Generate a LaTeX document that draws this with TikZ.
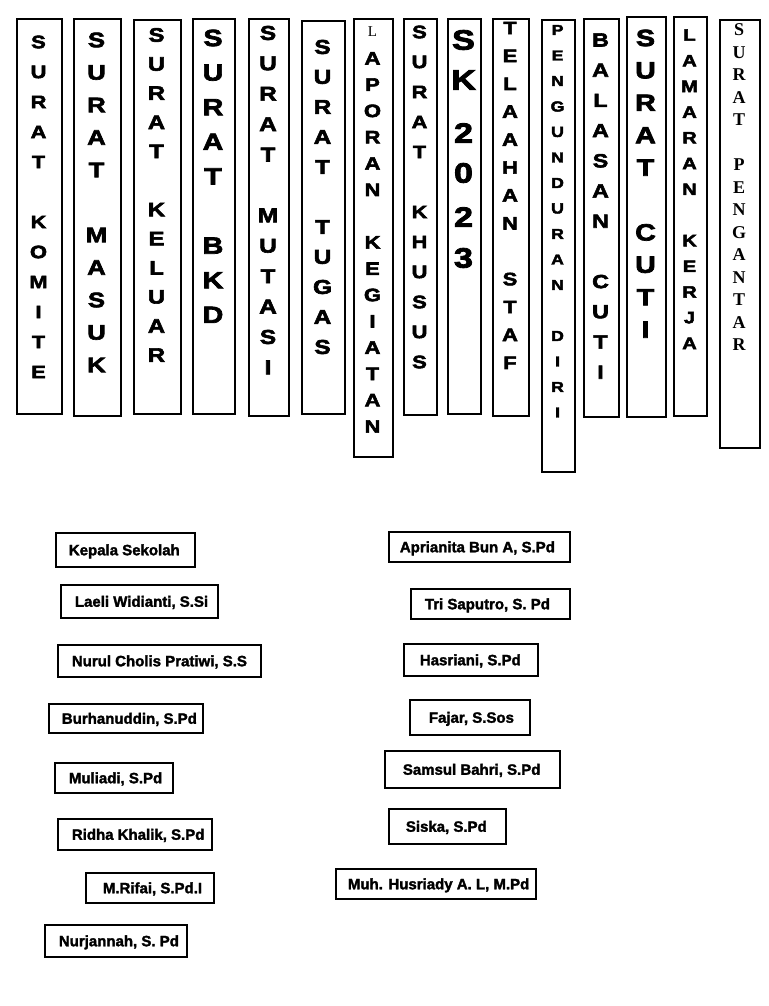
\documentclass[tikz,border=0pt]{standalone}
\usepackage{fontspec}
\setmainfont{Liberation Sans}
\newfontfamily\wide{Liberation Sans}[FakeStretch=1.22,FakeBold=3]
\newfontfamily\heavy{Liberation Sans}[FakeBold=2]
\newfontfamily\tnr{Liberation Serif}
\newcommand\F[1]{\wide\bfseries\fontsize{#1}{#1}\selectfont}
\newcommand\TB[1]{\tnr\bfseries\fontsize{#1}{#1}\selectfont}
\tikzset{
  vbox/.style={draw,line width=2pt,inner sep=0pt,anchor=north west},
  nbox/.style={draw,line width=1.8pt,inner sep=0pt,anchor=north west,
    font=\heavy\bfseries\fontsize{15}{15}\selectfont,text height=10.7pt,text depth=0pt},
  letter/.style={inner sep=0pt}
}
% vertical box: name, x0, y0, x1, y1 (outer edges in px)
\newcommand\vbx[5]{\node[vbox,minimum width=#4pt-#2pt-2pt,minimum height=#5pt-#3pt-2pt] (#1) at ({#2+1},{#3+1}) {};}
% letters: name, x, first y, step, font, list
\newcommand\vword[6]{\foreach \ch [count=\i from 0] in {#6}{\ifx\ch\empty\else\node[letter,font=#5] (#1-\i) at (#2,{#3+\i*#4}) {\ch};\fi}}
% name box: name, x0, y0, x1, y1, text start x, text
\newcommand\nbx[7]{\node[nbox,minimum width=#4pt-#2pt-2pt,minimum height=#5pt-#3pt-2pt] (#1) at ({#2+1},{#3+1})
  {\makebox[\dimexpr#4pt-#2pt-2pt\relax][l]{\hspace*{\dimexpr#6pt-#2pt-1pt\relax}#7}};}
\begin{document}
\begin{tikzpicture}[x=1pt,y=-1pt]
\fill[white] (0,0) rectangle (768,1006);
\useasboundingbox (0,0) rectangle (768,1006);
% ---- vertical boxes ----
\vbx{b1}{15}{17}{62}{414}
\vword{b1}{38.5}{42}{30}{\F{18}}{S,U,R,A,T,{},K,O,M,I,T,E}
\vbx{b2}{72}{17}{121}{416}
\vword{b2}{96.5}{40}{32.5}{\F{21}}{S,U,R,A,T,{},M,A,S,U,K}
\vbx{b3}{132}{18}{181}{414}
\vword{b3}{156.5}{35}{29.1}{\F{19.5}}{S,U,R,A,T,{},K,E,L,U,A,R}
\vbx{b4}{191}{17}{235}{414}
\vword{b4}{213}{38}{34.6}{\F{23.5}}{S,U,R,A,T,{},B,K,D}
\vbx{b5}{247}{17}{289}{416}
\vword{b5}{268}{33}{30.4}{\F{20}}{S,U,R,A,T,{},M,U,T,A,S,I}
\vbx{b6}{300}{19}{345}{414}
\vword{b6}{322.5}{47}{30}{\F{20}}{S,U,R,A,T,{},T,U,G,A,S}
\vbx{b7}{352}{17}{393}{457}
\vword{b7}{372.5}{32}{26.3}{\F{18}}{{\tnr\mdseries\fontsize{15}{15}\selectfont L},A,P,O,R,A,N,{},K,E,G,I,A,T,A,N}
\vbx{b8}{402}{17}{437}{415}
\vword{b8}{419.5}{32}{30}{\F{18}}{S,U,R,A,T,{},K,H,U,S,U,S}
\vbx{b9}{446}{17}{481}{414}
\foreach \ch/\yy [count=\i] in {S/40,K/80,2/133,0/173,2/217,3/258}
  {\node[letter,font=\F{28}] (b9-\i) at (463.5,\yy) {\ch};}
\vbx{b10}{491}{17}{529}{416}
\vword{b10}{510}{28}{27.9}{\F{18}}{T,E,L,A,A,H,A,N,{},S,T,A,F}
\vbx{b11}{540}{18}{575}{472}
\vword{b11}{557.5}{30}{25.5}{\F{14.5}}{P,E,N,G,U,N,D,U,R,A,N,{},D,I,R,I}
\vbx{b12}{582}{17}{619}{417}
\vword{b12}{600.5}{40}{30.2}{\F{19}}{B,A,L,A,S,A,N,{},C,U,T,I}
\vbx{b13}{625}{15}{666}{417}
\vword{b13}{645.5}{38}{32.4}{\F{23.5}}{S,U,R,A,T,{},C,U,T,I}
\vbx{b14}{672}{15}{707}{416}
\vword{b14}{689.5}{35}{25.7}{\F{16.5}}{L,A,M,A,R,A,N,{},K,E,R,J,A}
\vbx{b15}{718}{18}{760}{448}
\vword{b15}{739}{30}{22.5}{\TB{18}}{S,U,R,A,T,{},P,E,N,G,A,N,T,A,R}
% ---- name boxes, left column ----
\nbx{n1}{54}{531}{195}{567}{68}{Kepala Sekolah}
\nbx{n2}{59}{583}{218}{618}{74}{Laeli Widianti, S.Si}
\nbx{n3}{56}{643}{261}{677}{71}{Nurul Cholis Pratiwi, S.S}
\nbx{n4}{47}{702}{203}{733}{61}{Burhanuddin, S.Pd}
\nbx{n5}{53}{761}{173}{793}{68}{Muliadi, S.Pd}
\nbx{n6}{56}{817}{212}{850}{71}{Ridha Khalik, S.Pd}
\nbx{n7}{84}{871}{214}{903}{102}{M.Rifai, S.Pd.I}
\nbx{n8}{43}{923}{187}{957}{58}{Nurjannah, S. Pd}
% ---- name boxes, right column ----
\nbx{m1}{387}{530}{570}{562}{399}{Aprianita Bun A, S.Pd}
\nbx{m2}{409}{587}{570}{619}{424}{Tri Saputro, S. Pd}
\nbx{m3}{402}{642}{538}{676}{419}{Hasriani, S.Pd}
\nbx{m4}{408}{698}{530}{735}{428}{Fajar, S.Sos}
\nbx{m5}{383}{749}{560}{788}{402}{Samsul Bahri, S.Pd}
\nbx{m6}{387}{807}{506}{844}{405}{Siska, S.Pd}
\nbx{m7}{334}{867}{536}{899}{347}{Muh. Husriady A. L, M.Pd}
\end{tikzpicture}
\end{document}
